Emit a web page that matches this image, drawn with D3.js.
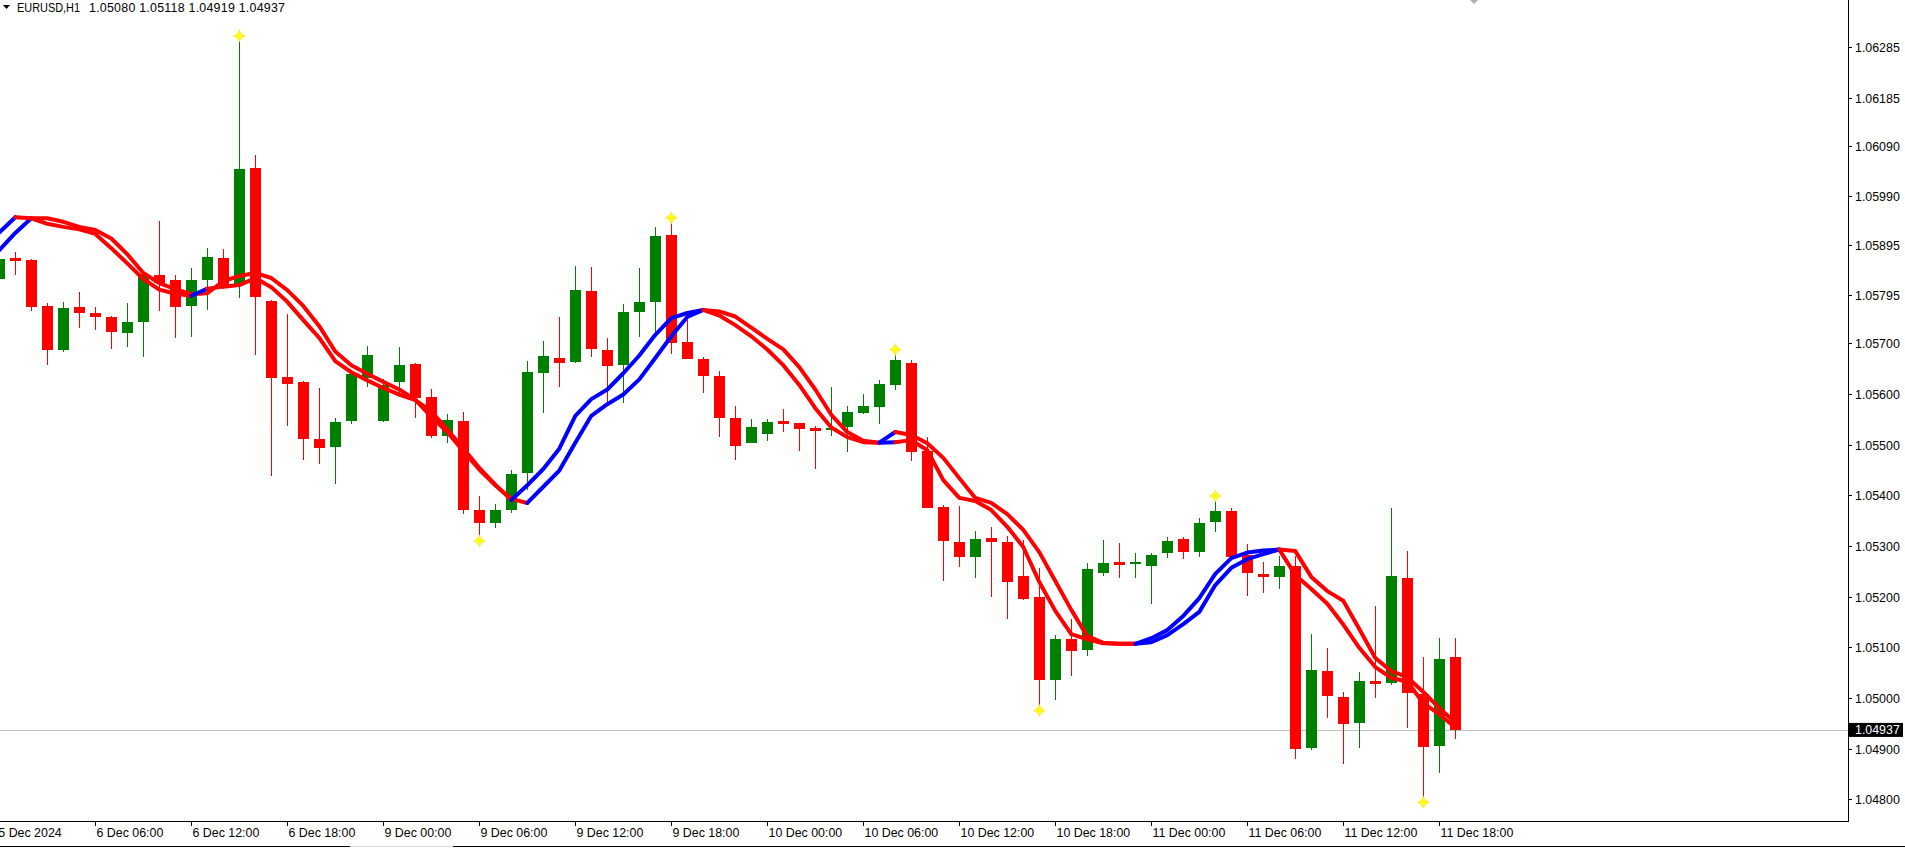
<!DOCTYPE html>
<html><head><meta charset="utf-8">
<script src="https://cdn.jsdelivr.net/npm/d3@7"></script>
<style>
html,body{margin:0;padding:0;background:#fff;overflow:hidden;}
svg{display:block;font-family:"Liberation Sans",Arial,sans-serif;}
</style></head><body>
<svg id="chart" width="1905" height="848"></svg>
<script>
const symbolName = "EURUSD,H1";
const lastQuote = ["1.05080","1.05118","1.04919","1.04937"];
const sessionDays = ["6 Dec","9 Dec","10 Dec","11 Dec"];

const open = [1.05827,1.05868,1.05865,1.05774,1.05686,1.05771,1.05759,1.05752,1.05720,1.05743,
1.05834,1.05826,1.05774,1.05825,1.05868,1.05815,1.06046,1.05784,1.05634,1.05624,
1.05511,1.05496,1.05547,1.05632,1.05547,1.05624,1.05659,1.05594,1.05518,1.05547,
1.05371,1.05346,1.05372,1.05444,1.05641,1.05672,1.05663,1.05803,1.05687,1.05657,
1.05761,1.05782,1.05914,1.05702,1.05669,1.05636,1.05553,1.05504,1.05522,1.05547,
1.05542,1.05532,1.05529,1.05534,1.05563,1.05575,1.05618,1.05661,1.05487,1.05378,
1.05307,1.05279,1.05316,1.05308,1.05241,1.05200,1.05035,1.05116,1.05095,1.05247,
1.05268,1.05264,1.05260,1.05286,1.05314,1.05288,1.05347,1.05369,1.05282,1.05245,
1.05239,1.05261,1.04901,1.05053,1.05001,1.04950,1.05034,1.05030,1.05236,1.05007,
1.04906,1.05080];
const high = [1.05874,1.05880,1.05867,1.05779,1.05782,1.05802,1.05771,1.05754,1.05779,1.05838,
1.05942,1.05834,1.05848,1.05888,1.05886,1.06299,1.06072,1.05786,1.05757,1.05626,
1.05611,1.05553,1.05641,1.05695,1.05629,1.05693,1.05661,1.05610,1.05560,1.05564,
1.05399,1.05382,1.05450,1.05665,1.05705,1.05753,1.05853,1.05851,1.05711,1.05777,
1.05848,1.05929,1.05940,1.05746,1.05674,1.05646,1.05576,1.05551,1.05551,1.05570,
1.05543,1.05536,1.05614,1.05577,1.05601,1.05628,1.05680,1.05667,1.05516,1.05381,
1.05379,1.05330,1.05338,1.05319,1.05312,1.05257,1.05124,1.05155,1.05266,1.05312,
1.05305,1.05286,1.05286,1.05318,1.05317,1.05355,1.05391,1.05376,1.05303,1.05268,
1.05280,1.05280,1.05126,1.05099,1.05012,1.05051,1.05182,1.05376,1.05290,1.05081,
1.05119,1.05118];
const low = [1.05819,1.05835,1.05763,1.05657,1.05682,1.05730,1.05726,1.05688,1.05692,1.05674,
1.05763,1.05711,1.05713,1.05766,1.05808,1.05790,1.05677,1.05439,1.05537,1.05470,
1.05461,1.05422,1.05540,1.05614,1.05545,1.05595,1.05553,1.05514,1.05504,1.05363,
1.05318,1.05335,1.05365,1.05411,1.05563,1.05614,1.05661,1.05674,1.05580,1.05582,
1.05713,1.05723,1.05680,1.05669,1.05603,1.05516,1.05470,1.05503,1.05508,1.05526,
1.05488,1.05452,1.05517,1.05486,1.05560,1.05540,1.05607,1.05468,1.05376,1.05230,
1.05259,1.05237,1.05200,1.05155,1.05193,1.04983,1.04996,1.05043,1.05083,1.05241,
1.05237,1.05236,1.05185,1.05276,1.05274,1.05279,1.05327,1.05279,1.05202,1.05208,
1.05216,1.04879,1.04897,1.04961,1.04869,1.04901,1.05000,1.05026,1.04940,1.04802,
1.04851,1.04919];
const close = [1.05867,1.05863,1.05771,1.05686,1.05769,1.05759,1.05753,1.05722,1.05742,1.05836,
1.05820,1.05772,1.05825,1.05871,1.05811,1.06044,1.05791,1.05632,1.05619,1.05511,
1.05493,1.05544,1.05639,1.05677,1.05617,1.05657,1.05592,1.05518,1.05549,1.05371,
1.05346,1.05372,1.05442,1.05643,1.05675,1.05661,1.05805,1.05688,1.05656,1.05761,
1.05782,1.05912,1.05701,1.05669,1.05636,1.05552,1.05498,1.05534,1.05544,1.05540,
1.05530,1.05528,1.05532,1.05564,1.05576,1.05620,1.05667,1.05485,1.05376,1.05310,
1.05279,1.05314,1.05307,1.05228,1.05195,1.05035,1.05116,1.05093,1.05255,1.05266,
1.05262,1.05269,1.05282,1.05310,1.05288,1.05345,1.05369,1.05279,1.05246,1.05239,
1.05261,1.04899,1.05055,1.05003,1.04948,1.05034,1.05028,1.05241,1.05009,1.04904,
1.05076,1.04937];

const maFast = [1.05919,1.05949,1.05947,1.05936,1.05930,1.05925,1.05916,1.05888,1.05858,1.05827,
1.05806,1.05798,1.05794,1.05808,1.05812,1.05815,1.05829,1.05811,1.05782,1.05746,
1.05711,1.05665,1.05643,1.05627,1.05612,1.05599,1.05588,1.05566,1.05530,1.05493,
1.05454,1.05421,1.05391,1.05420,1.05452,1.05492,1.05557,1.05590,1.05609,1.05641,
1.05676,1.05717,1.05750,1.05760,1.05766,1.05755,1.05736,1.05714,1.05688,1.05657,
1.05618,1.05572,1.05534,1.05515,1.05505,1.05504,1.05525,1.05519,1.05503,1.05474,
1.05434,1.05395,1.05385,1.05363,1.05332,1.05288,1.05231,1.05174,1.05122,1.05109,
1.05107,1.05107,1.05118,1.05134,1.05162,1.05197,1.05245,1.05276,1.05287,1.05291,
1.05293,1.05290,1.05239,1.05211,1.05192,1.05136,1.05079,1.05053,1.05041,1.05012,
1.04980,1.04952];
const maSlow = [1.05884,1.05918,1.05947,1.05947,1.05940,1.05930,1.05924,1.05907,1.05876,1.05839,
1.05819,1.05807,1.05797,1.05799,1.05823,1.05833,1.05839,1.05829,1.05805,1.05774,
1.05734,1.05684,1.05657,1.05640,1.05624,1.05609,1.05589,1.05555,1.05525,1.05487,
1.05451,1.05420,1.05393,1.05385,1.05417,1.05449,1.05504,1.05557,1.05580,1.05599,
1.05629,1.05671,1.05714,1.05752,1.05766,1.05763,1.05753,1.05731,1.05709,1.05688,
1.05653,1.05609,1.05559,1.05525,1.05508,1.05504,1.05505,1.05509,1.05489,1.05430,
1.05395,1.05389,1.05371,1.05338,1.05298,1.05229,1.05172,1.05126,1.05116,1.05108,
1.05107,1.05107,1.05110,1.05124,1.05146,1.05170,1.05223,1.05257,1.05274,1.05284,
1.05293,1.05243,1.05215,1.05186,1.05145,1.05099,1.05061,1.05040,1.05032,1.04990,
1.04968,1.04942];
const fastUpRanges = [[0,1],[13,13],[33,44],[56,56],[72,80]];
const slowUpRanges = [[0,2],[34,44],[56,56],[72,80]];
const fractalUp = [15,42,56,76];
const fractalDown = [30,65,89];

const yTickLabels = ["1.06285","1.06185","1.06090","1.05990","1.05895","1.05795","1.05700","1.05600",
"1.05500","1.05400","1.05300","1.05200","1.05100","1.05000","1.04900","1.04800"];
const xTickLabels = ["5 Dec 2024","6 Dec 06:00","6 Dec 12:00","6 Dec 18:00","9 Dec 00:00","9 Dec 06:00",
"9 Dec 12:00","9 Dec 18:00","10 Dec 00:00","10 Dec 06:00","10 Dec 12:00","10 Dec 18:00",
"11 Dec 00:00","11 Dec 06:00","11 Dec 12:00","11 Dec 18:00"];
const currentPrice = 1.04937;

// ---- layout ----
const W = 1905, H = 848;
const plotR = 1848, plotB = 821;
const barStep = 16, firstX = -0.7, bodyW = 11;
const GREEN = "#008000", RED = "#ff0000", BLUE = "#0000ff";

const times = [];
sessionDays.forEach(d => { for (let h = 0; h < 24; h++) times.push(d + " " + String(h).padStart(2, "0") + ":00"); });
times.length = open.length;

const x = d3.scalePoint().domain(times).range([firstX, firstX + barStep * (times.length - 1)]);
const y = d3.scaleLinear().domain([1.047572, 1.063778]).range([plotB, 0]);

const svg = d3.select("#chart");
svg.append("rect").attr("width", W).attr("height", H).attr("fill", "#fff");

svg.append("defs").append("clipPath").attr("id", "plotClip")
  .append("rect").attr("x", 0).attr("y", 0).attr("width", plotR).attr("height", plotB);
const plot = svg.append("g").attr("clip-path", "url(#plotClip)");

// current price line
plot.append("line").attr("x1", 0).attr("x2", plotR)
  .attr("y1", Math.round(y(currentPrice)) + 0.5).attr("y2", Math.round(y(currentPrice)) + 0.5)
  .attr("stroke", "#c0c0c0").attr("stroke-width", 1);

// candles
const bars = open.map((o, i) => ({ t: times[i], o, h: high[i], l: low[i], c: close[i] }));
const cg = plot.append("g").attr("shape-rendering", "crispEdges");
const cand = cg.selectAll("g").data(bars).join("g");
cand.append("line")
  .attr("x1", d => Math.round(x(d.t)) + 0.5).attr("x2", d => Math.round(x(d.t)) + 0.5)
  .attr("y1", d => y(d.h)).attr("y2", d => y(d.l))
  .attr("stroke", d => d.c >= d.o ? GREEN : RED).attr("stroke-width", 1);
cand.append("rect")
  .attr("x", d => Math.round(x(d.t)) - (bodyW - 1) / 2)
  .attr("width", bodyW)
  .attr("y", d => y(Math.max(d.o, d.c)))
  .attr("height", d => Math.max(2, Math.abs(y(d.o) - y(d.c))))
  .attr("fill", d => d.c >= d.o ? GREEN : RED);

// two-colour moving-average lines
function drawMA(values, upRanges) {
  const isUp = i => upRanges.some(r => i >= r[0] && i <= r[1]);
  const line = d3.line().x(i => x(times[i])).y(i => y(values[i]));
  let s = 1;
  for (let i = 1; i <= values.length; i++) {
    if (i === values.length || isUp(i) !== isUp(s)) {
      const idx = d3.range(s - 1, i);
      plot.append("path").attr("d", line(idx)).attr("fill", "none")
        .attr("stroke", isUp(s) ? BLUE : RED).attr("stroke-width", 4)
        .attr("stroke-linejoin", "round").attr("stroke-linecap", "round");
      s = i;
    }
  }
}
drawMA(maSlow, slowUpRanges);
drawMA(maFast, fastUpRanges);

// fractal markers (4-point yellow stars)
const starPath = "M0,-6L1.7,-1.7L6,0L1.7,1.7L0,6L-1.7,1.7L-6,0L-1.7,-1.7Z";
const fr = fractalUp.map(i => ({ i, yy: y(high[i]) - 4 })).concat(fractalDown.map(i => ({ i, yy: y(low[i]) + 4 })));
const frG = plot.selectAll("g.fr").data(fr).join("g").attr("class", "fr")
  .attr("transform", d => `translate(${x(times[d.i])},${d.yy})`);
frG.append("circle").attr("r", 4.5).attr("fill", "#fff7a8").attr("opacity", 0.8);
frG.append("path").attr("d", starPath).attr("fill", "#ffff00").attr("stroke", "#f2e64a").attr("stroke-width", 0.8);

// right price axis
svg.append("line").attr("x1", plotR + 0.5).attr("x2", plotR + 0.5).attr("y1", 0).attr("y2", plotB + 1)
  .attr("stroke", "#000").attr("stroke-width", 1);
const ya = svg.append("g");
yTickLabels.forEach(lbl => {
  const yy = Math.round(y(+lbl)) + 0.5;
  ya.append("line").attr("x1", plotR).attr("x2", plotR + 4).attr("y1", yy).attr("y2", yy).attr("stroke", "#000");
  ya.append("text").attr("x", plotR + 7).attr("y", yy).attr("dy", "0.36em")
    .attr("font-size", "12.4px").attr("fill", "#000").text(lbl);
});
const cpY = y(currentPrice);
svg.append("rect").attr("x", plotR + 1).attr("y", cpY - 7).attr("width", 54).attr("height", 14).attr("fill", "#000");
svg.append("text").attr("x", plotR + 7).attr("y", cpY).attr("dy", "0.36em")
  .attr("font-size", "12.4px").attr("fill", "#fff").text(lastQuote[3]);

// bottom time axis
svg.append("line").attr("x1", 0).attr("x2", plotR + 1).attr("y1", plotB + 0.5).attr("y2", plotB + 0.5)
  .attr("stroke", "#000").attr("stroke-width", 1);
const xa = svg.append("g");
xTickLabels.forEach((lbl, k) => {
  let xx;
  if (k === 0) { xx = x(times[0]) - 1; }
  else {
    xx = Math.round(x(lbl)) + 0.5;
    xa.append("line").attr("x1", xx).attr("x2", xx).attr("y1", plotB).attr("y2", plotB + 5).attr("stroke", "#000");
    xx += 1;
  }
  xa.append("text").attr("x", xx).attr("y", plotB + 16).attr("font-size", "12.4px").attr("fill", "#000").text(lbl);
});

// window bottom strip
svg.append("line").attr("x1", 0).attr("x2", 350).attr("y1", 846.5).attr("y2", 846.5).attr("stroke", "#000");
svg.append("line").attr("x1", 453).attr("x2", W).attr("y1", 846.5).attr("y2", 846.5).attr("stroke", "#000");
svg.append("line").attr("x1", 350).attr("x2", 453).attr("y1", 846.5).attr("y2", 846.5).attr("stroke", "#d8d8d8");

// header
svg.append("path").attr("d", "M3,5 L10,5 L6.5,9 Z").attr("fill", "#000");
svg.append("text").attr("x", 17).attr("y", 12).attr("font-size", "12.4px").attr("fill", "#000")
  .attr("textLength", 63).attr("lengthAdjust", "spacingAndGlyphs").text(symbolName);
svg.append("text").attr("x", 89).attr("y", 12).attr("font-size", "12.4px").attr("fill", "#000")
  .attr("textLength", 196).attr("lengthAdjust", "spacing").text(lastQuote.join(" "));

// shift marker at top
svg.append("path").attr("d", "M1470,0 L1478,0 L1474,4 Z").attr("fill", "#b0b0b0");
</script>
</body></html>
